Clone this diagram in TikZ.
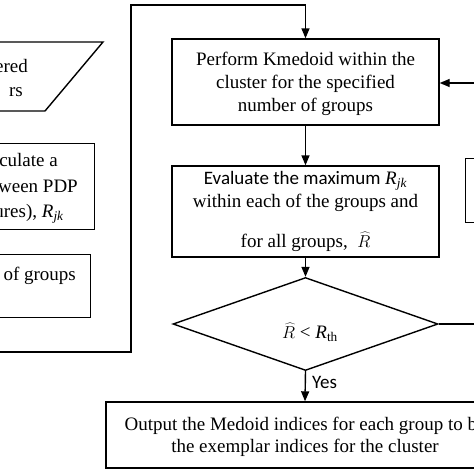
\documentclass[tikz,border=0pt]{standalone}
\usepackage{fontspec}
\setmainfont{Liberation Serif}
\newfontfamily\carlito{Carlito}
\usetikzlibrary{arrows.meta,shapes.geometric}
\begin{document}
\begin{tikzpicture}[x=1pt,y=-1pt,
  box/.style={draw, line width=1.4pt, rectangle, inner sep=0pt},
  txt/.style={font=\fontsize{19}{23}\selectfont, inner sep=0pt, anchor=base},
  conn/.style={line width=1.4pt},
  arr/.style={conn, -{Triangle[length=10pt,width=8pt]}}]
\useasboundingbox (0,0) rectangle (474,474);
\fill[white] (0,0) rectangle (474,474);
\clip (0,0) rectangle (474,474);
% partially visible input parallelogram
\coordinate (p1) at (-80,42);
\coordinate (p2) at (103,42);
\coordinate (p3) at (45,111);
\coordinate (p4) at (-80,111);
\draw[conn] (p1) -- (p2) -- (p3) -- (p4);
\node[txt, anchor=base east] (pt1) at (28,72) {ered};
\node[txt, anchor=base east] (pt2) at (23,96) {rs};
% left column boxes
\node[box, minimum width=200pt, minimum height=86pt, anchor=north east] (calc) at (95,143) {};
\node[txt, anchor=base east] (ct1) at (58,166) {lculate a};
\node[txt, anchor=base east] (ct2) at (78,192) {ween PDP};
\node[txt, anchor=base east] (ct3) at (64,217) {ures), \textit{R}\textsubscript{\textit{jk}}};
\node[box, minimum width=200pt, minimum height=63pt, anchor=north east] (ngroups) at (91,254) {};
\node[txt, anchor=base east] (gt1) at (76,280) {of groups};
% main column
\node[box, minimum width=267pt, minimum height=86pt] (kmed) at (305.5,82) {};
\node[txt] (kt1) at (305.5,65) {Perform Kmedoid within the};
\node[txt] (kt2) at (305.5,88) {cluster for the specified};
\node[txt] (kt3) at (305.5,111) {number of groups};
\node[box, minimum width=267pt, minimum height=91pt] (eval) at (305.5,211.5) {};
\node[txt] (et1) at (305.5,184) {{\carlito Evaluate the maximum} \textit{R}\textsubscript{\textit{jk}}};
\node[txt] (et2) at (305.5,207) {within each of the groups and};
\node[txt] (et3) at (305.5,247) {for all groups,\ \ $\widehat{R}$};
\node[draw, diamond, line width=1.4pt, inner sep=0pt, minimum width=265pt, minimum height=93pt] (dec) at (305.5,324) {};
\node[txt] (dt) at (310,338) {$\widehat{R}$ < \textit{R}\textsubscript{th}};
\node[box, minimum width=398pt, minimum height=66pt] (out) at (305,435) {};
\node[txt] (ot1) at (305,430) {Output the Medoid indices for each group to be};
\node[txt] (ot2) at (305,452) {the exemplar indices for the cluster};
% right box (partially visible)
\node[box, minimum width=60pt, minimum height=64pt, anchor=north west] (incr) at (465,158) {};
% connectors
\coordinate (loopin) at (-10,352);
\draw[arr] (loopin) -| (131,5) -| (kmed.north);
\draw[arr] (kmed) -- (eval);
\draw[arr] (eval) -- (dec);
\draw[arr] (dec.south) -- (out.north);
\node[txt, anchor=base west, font=\fontsize{19}{23}\selectfont\carlito] (yes) at (312,388) {Yes};
\coordinate (rout) at (480,324);
\draw[conn] (dec.east) -- (rout);
\coordinate (rin) at (480,83);
\draw[arr] (rin) -- (rin -| kmed.east);
\end{tikzpicture}
\end{document}
